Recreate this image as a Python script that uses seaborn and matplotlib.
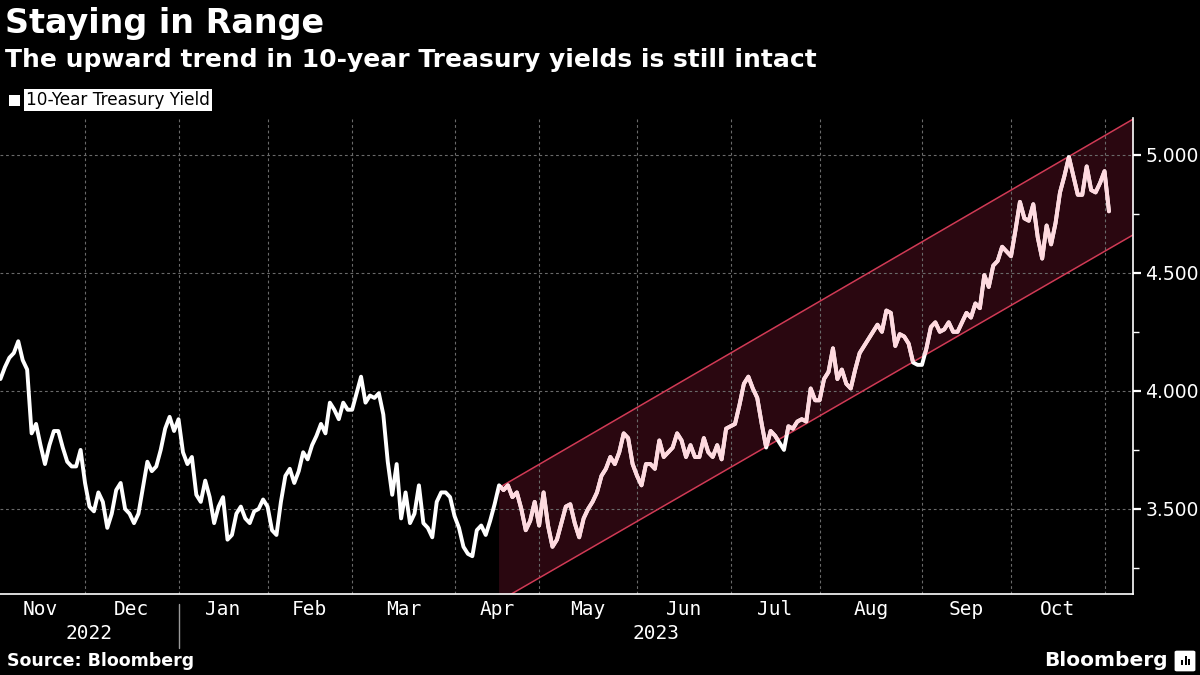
import numpy as np
import pandas as pd
import matplotlib.pyplot as plt
import seaborn as sns
from matplotlib.patches import Polygon, Rectangle, FancyBboxPatch

# trading days of the bond market, Nov 2022 - Nov 2023
holidays = ["2022-11-11", "2022-11-24", "2022-12-26", "2023-01-02", "2023-01-16",
            "2023-02-20", "2023-04-07", "2023-05-29", "2023-06-19", "2023-07-04",
            "2023-09-04", "2023-10-09"]
dates = pd.bdate_range("2022-11-01", "2023-11-01", freq="C", holidays=holidays)

# 10-year yield, one value per trading day
nov22 = [4.05, 4.10, 4.14, 4.16, 4.21, 4.13, 4.09, 3.82, 3.86, 3.77,
         3.69, 3.77, 3.83, 3.83, 3.76, 3.70, 3.68, 3.68, 3.75, 3.61]
dec22 = [3.51, 3.49, 3.57, 3.53, 3.42, 3.48, 3.58, 3.61, 3.50, 3.48, 3.44,
         3.48, 3.59, 3.70, 3.66, 3.68, 3.75, 3.84, 3.89, 3.83, 3.88]
jan23 = [3.74, 3.69, 3.72, 3.56, 3.53, 3.62, 3.55, 3.44, 3.51, 3.55,
         3.37, 3.39, 3.48, 3.51, 3.46, 3.44, 3.49, 3.50, 3.54, 3.51]
feb23 = [3.41, 3.39, 3.53, 3.64, 3.67, 3.61, 3.66, 3.74, 3.71, 3.77,
         3.81, 3.86, 3.82, 3.95, 3.92, 3.88, 3.95, 3.92, 3.92]
mar23 = [3.99, 4.06, 3.95, 3.98, 3.97, 3.99, 3.90, 3.70, 3.56, 3.69, 3.46, 3.57,
         3.44, 3.48, 3.60, 3.44, 3.42, 3.38, 3.53, 3.57, 3.57, 3.55, 3.47]
apr23 = [3.42, 3.34, 3.31, 3.30, 3.41, 3.43, 3.39, 3.45, 3.52, 3.60,
         3.58, 3.60, 3.55, 3.57, 3.50, 3.41, 3.45, 3.53, 3.43]
may23 = [3.57, 3.43, 3.34, 3.37, 3.44, 3.51, 3.52, 3.44, 3.38, 3.46, 3.50,
         3.53, 3.57, 3.64, 3.67, 3.72, 3.69, 3.74, 3.82, 3.80, 3.69, 3.64]
jun23 = [3.60, 3.69, 3.69, 3.67, 3.79, 3.72, 3.74, 3.76, 3.82, 3.79, 3.72,
         3.77, 3.72, 3.72, 3.80, 3.74, 3.72, 3.77, 3.71, 3.84, 3.85]
jul23 = [3.86, 3.94, 4.03, 4.06, 4.01, 3.97, 3.86, 3.76, 3.83, 3.81,
         3.78, 3.75, 3.85, 3.84, 3.87, 3.88, 3.87, 4.01, 3.96, 3.96]
aug23 = [4.05, 4.08, 4.18, 4.05, 4.09, 4.03, 4.01, 4.09, 4.16, 4.19, 4.22, 4.25,
         4.28, 4.25, 4.34, 4.33, 4.19, 4.24, 4.23, 4.20, 4.12, 4.11, 4.11]
sep23 = [4.18, 4.27, 4.29, 4.25, 4.26, 4.29, 4.25, 4.25, 4.29, 4.33,
         4.31, 4.37, 4.35, 4.49, 4.44, 4.53, 4.55, 4.61, 4.59, 4.57]
oct23 = [4.68, 4.80, 4.73, 4.72, 4.79, 4.65, 4.56, 4.70, 4.62, 4.71, 4.84,
         4.91, 4.99, 4.91, 4.83, 4.83, 4.95, 4.85, 4.84, 4.88, 4.93]
nov23 = [4.76]
yields = (nov22 + dec22 + jan23 + feb23 + mar23 + apr23 + may23 + jun23
          + jul23 + aug23 + sep23 + oct23 + nov23)

# rising channel drawn on the chart
channel_start = "2023-04-17"
channel_upper = [3.59, 5.15]
channel_lower = [3.11, 4.66]

month_names = ["Nov", "Dec", "Jan", "Feb", "Mar", "Apr", "May", "Jun",
               "Jul", "Aug", "Sep", "Oct"]
years = ["2022", "2023"]
y_ticks = [3.5, 4.0, 4.5, 5.0]

df = pd.DataFrame({"date": dates, "yield": yields})
df["x"] = np.arange(len(df))

sns.set_style("dark", {"axes.facecolor": "black", "figure.facecolor": "black"})
plt.rcParams["font.family"] = ["DejaVu Sans"]

fig = plt.figure(figsize=(12, 6.75), dpi=100)
ax = fig.add_axes([0, 0.12, 1133 / 1200, 476 / 675])
ax.set_facecolor("black")

x_left = -0.1
x_right = df["x"].iloc[-1] + 5.4

# channel
x0 = df.loc[df["date"] == channel_start, "x"].iloc[0]
poly = Polygon([(x0, channel_upper[0]), (x_right, channel_upper[1]),
                (x_right, channel_lower[1]), (x0, channel_lower[0])],
               closed=True, facecolor="#2a0710", edgecolor="none", zorder=1)
ax.add_patch(poly)
ax.plot([x0, x_right], channel_upper, color="#d03a55", lw=1.1, zorder=1.6)
ax.plot([x0, x_right], channel_lower, color="#d03a55", lw=1.1, zorder=1.6)

# yield line: white, pink inside the channel
sns.lineplot(data=df, x="x", y="yield", color="white", lw=2.8, ax=ax, zorder=3)
sns.lineplot(data=df, x="x", y="yield", color="#ffd9df", lw=2.8, ax=ax, zorder=4)
ax.lines[-1].set_clip_path(poly)

ax.set_xlim(x_left, x_right)
ax.set_ylim(3.14, 5.155)
ax.set_xlabel("")
ax.set_ylabel("")

# month boundaries (ticks + grid) and month labels between them
starts = df.index[df["date"].dt.month != df["date"].shift().dt.month].to_numpy()
bounds = np.concatenate([[-1], starts[1:] - 1])
ax.set_xticks(bounds[1:])
ax.set_xticklabels([])
mids = (bounds[:-1] + bounds[1:]) / 2.0
ax.set_xticks(mids, minor=True)
ax.set_xticklabels(month_names, minor=True, color="white",
                   fontsize=14, family="DejaVu Sans Mono")
ax.tick_params(axis="x", which="major", direction="out", length=5,
               width=1, color="white")
ax.tick_params(axis="x", which="minor", length=0, pad=4)

# y axis on the right
ax.yaxis.tick_right()
ax.set_yticks(y_ticks)
ax.set_yticklabels([f"{v:.3f}" for v in y_ticks], color="white", fontsize=13.5)
ax.set_yticks([3.25, 3.75, 4.25, 4.75], minor=True)
ax.tick_params(axis="y", which="major", direction="out", length=6, width=1.6,
               color="white", pad=3)
ax.tick_params(axis="y", which="minor", direction="out", length=4, width=1,
               color="white")

ax.set_axisbelow("line")
ax.grid(True, which="major", color="#6a6a6a", linestyle=(0, (2.5, 2.5)), lw=0.8)
for side in ["left", "top"]:
    ax.spines[side].set_visible(False)
for side in ["right", "bottom"]:
    ax.spines[side].set_visible(True)
    ax.spines[side].set_color("white")
    ax.spines[side].set_linewidth(1.2)

# year labels under the months
jan_bound = bounds[2]
trans = ax.get_xaxis_transform()
ax.text((x_left + jan_bound) / 2, -0.083, years[0], transform=trans, ha="center",
        va="center", color="white", fontsize=14, family="DejaVu Sans Mono")
ax.text((jan_bound + x_right) / 2, -0.083, years[1], transform=trans, ha="center",
        va="center", color="white", fontsize=14, family="DejaVu Sans Mono")
ax.plot([jan_bound, jan_bound], [-0.021, -0.113], transform=trans,
        color="#9a9a9a", lw=1, clip_on=False)

# titles, legend, footer
fig.text(5 / 1200, 1 - 24 / 675, "Staying in Range", color="white",
         fontsize=24, fontweight="bold", va="center", ha="left")
fig.text(5 / 1200, 1 - 60 / 675,
         "The upward trend in 10-year Treasury yields is still intact",
         color="white", fontsize=18, fontweight="bold", va="center", ha="left")
fig.patches.append(Rectangle((9 / 1200, 1 - 106 / 675), 11 / 1200, 11 / 675,
                             transform=fig.transFigure, facecolor="white",
                             edgecolor="none"))
fig.text(26 / 1200, 1 - 100 / 675, "10-Year Treasury Yield", color="black",
         fontsize=12.2, va="center", ha="left",
         bbox=dict(facecolor="white", edgecolor="none", pad=1.2))
fig.text(7 / 1200, 1 - 661 / 675, "Source: Bloomberg", color="white",
         fontsize=12.5, fontweight="bold", va="center", ha="left")
fig.text(1168 / 1200, 1 - 660 / 675, "Bloomberg", color="white",
         fontsize=14.5, fontweight="bold", va="center", ha="right")
fig.patches.append(FancyBboxPatch((1177 / 1200, 1 - 670 / 675), 16 / 1200, 18 / 675,
                                  boxstyle="round,pad=0.002",
                                  transform=fig.transFigure,
                                  facecolor="white", edgecolor="none"))
for bx, bh in [(1181, 5), (1184.5, 9), (1188, 6)]:
    fig.patches.append(Rectangle((bx / 1200, 1 - 665 / 675), 2 / 1200, bh / 675,
                                 transform=fig.transFigure, facecolor="black",
                                 edgecolor="none"))

fig.savefig("out.png", dpi=100, facecolor="black")
